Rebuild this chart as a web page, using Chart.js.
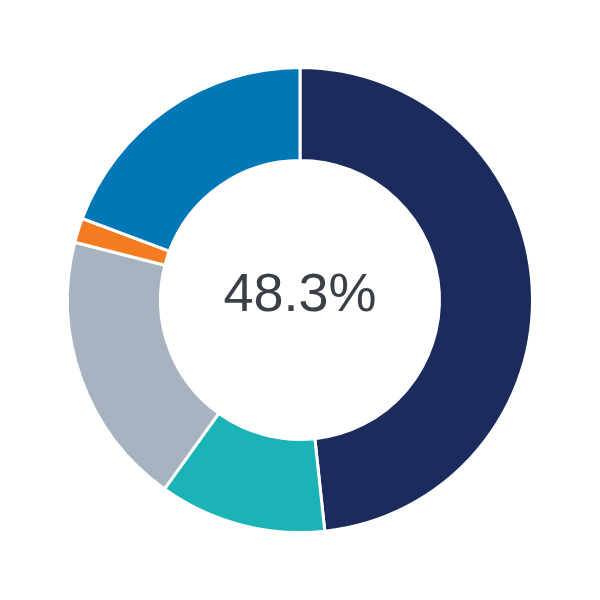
<!DOCTYPE html>
<html>
<head>
<meta charset="utf-8">
<script src="https://cdn.jsdelivr.net/npm/chart.js@4"></script>
<style>
  html, body { margin: 0; padding: 0; background: #fff; }
  #wrap { width: 600px; height: 600px; position: relative; }
</style>
</head>
<body>
<div id="wrap"><canvas id="donut"></canvas></div>
<script>
// Segment shares, clockwise from the top
const labels = ['Segment A', 'Segment B', 'Segment C', 'Segment D', 'Segment E'];
const shares = [48.3, 11.6, 19.1, 1.7, 19.3];
const colors = ['#1b2b5b', '#1bb3b6', '#a8b3c2', '#f47c20', '#0277b5'];
const centerLabel = '48.3%';

// draws the big number in the hole
const centerText = {
  id: 'centerText',
  afterDraw(chart) {
    const meta = chart.getDatasetMeta(0);
    if (!meta.data.length) return;
    const { x, y } = meta.data[0];
    const ctx = chart.ctx;
    ctx.save();
    ctx.font = '400 54px "Liberation Sans", Arial, sans-serif';
    ctx.fillStyle = '#3b3f48';
    ctx.textAlign = 'center';
    ctx.textBaseline = 'middle';
    ctx.fillText(centerLabel, x, y - 4);
    ctx.restore();
  }
};

new Chart(document.getElementById('donut'), {
  type: 'doughnut',
  data: {
    labels,
    datasets: [{
      data: shares,
      backgroundColor: colors,
      borderColor: '#ffffff',
      borderWidth: 3
    }]
  },
  options: {
    responsive: true,
    maintainAspectRatio: false,
    animation: false,
    cutout: '60%',
    layout: { padding: 66 },
    plugins: {
      legend: { display: false },
      tooltip: { enabled: false }
    }
  },
  plugins: [centerText]
});
</script>
</body>
</html>
